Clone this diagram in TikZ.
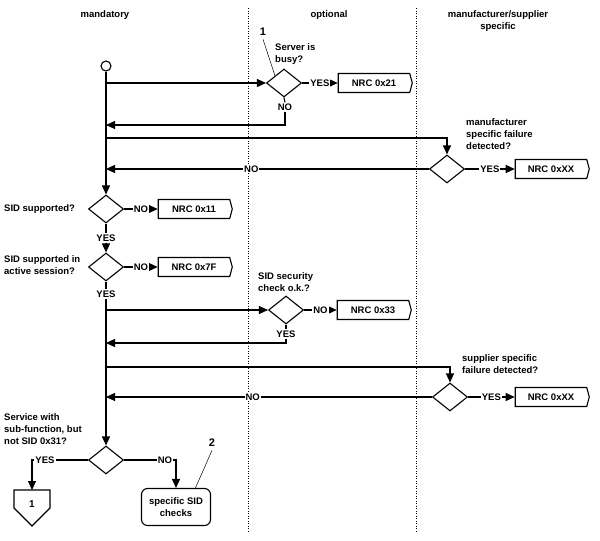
\documentclass[tikz,border=0pt]{standalone}
\usepackage{fontspec}
\setmainfont{Liberation Sans}
\usetikzlibrary{arrows.meta,shapes.geometric,shapes.symbols}
\begin{document}
\begin{tikzpicture}[x=1pt,y=-1pt,
  every node/.style={font=\bfseries\fontsize{9.5}{12}\selectfont},
  line/.style={line width=1.1pt},
  arr/.style={line, -{Triangle[length=9pt,width=8pt]}},
  dec/.style={draw,line width=1.1pt,diamond,minimum width=35pt,minimum height=28pt,inner sep=0pt},
  nrc/.style={draw,line width=1.1pt,signal,signal to=east,signal pointer angle=150,minimum height=19pt,minimum width=74pt,inner sep=2pt},
  lbl/.style={align=left,anchor=west,inner sep=0pt},
  yn/.style={fill=white,inner sep=1pt}]
\useasboundingbox (0,0) rectangle (600,541);
\draw[line width=1pt,dash pattern=on 1pt off 1.5pt] (248,8) -- (248,532) (416,8) -- (416,532);
\node (h1) at (105,15) {mandatory};
\node (h2) at (329,15) {optional};
\node[align=center] (h3) at (498,21) {manufacturer/supplier\\specific};
% start
\node[draw,line width=1.1pt,circle,minimum size=10pt,inner sep=0pt] (st) at (106,66) {};
\coordinate (m1) at (106,83);
\coordinate (m2) at (106,125);
\coordinate (m3) at (106,138);
\coordinate (m4) at (106,169);
\coordinate (m5) at (106,310);
\coordinate (m6) at (106,343);
\coordinate (m7) at (106,367);
\coordinate (m8) at (106,397);
% server busy
\node[dec] (d1) at (284,83) {};
\node (n1) at (263,32) {\fontsize{11}{12}\selectfont 1};
\draw[line width=0.5pt] (n1.south) -- (d1.north west);
\node[lbl] (t1) at (275,54) {Server is\\busy?};
\node[nrc] (r1) at (374,83) {NRC 0x21};
\draw[arr] (d1.east) -- node[yn]{YES} (r1.west);
\node[yn] (no1) at (285,107) {NO};
\draw[line] (d1.south) -- (no1.north);
\draw[arr] (no1.south) |- (m2);
\draw[arr] (m1) -- (d1.west);
% manufacturer
\node[dec] (d2) at (447,169) {};
\node[lbl] (t2) at (466,134) {manufacturer\\specific failure\\detected?};
\draw[arr] (m3) -| (d2.north);
\node[nrc] (r2) at (551,169) {NRC 0xXX};
\draw[arr] (d2.east) -- node[yn]{YES} (r2.west);
\draw[arr] (d2.west) -- node[yn,pos=0.55]{NO} (m4);
% SID supported
\node[dec] (d3) at (106,209) {};
\node[lbl] (t3) at (4,209) {SID supported?};
\node[nrc] (r3) at (194,209) {NRC 0x11};
\draw[arr] (d3.east) -- node[yn]{NO} (r3.west);
\node[yn] (y3) at (106,238) {YES};
\node[dec] (d4) at (106,267) {};
\node[lbl] (t4) at (4,265) {SID supported in\\active session?};
\node[nrc] (r4) at (194,267) {NRC 0x7F};
\draw[arr] (d4.east) -- node[yn]{NO} (r4.west);
\node[yn] (y4) at (106,294) {YES};
\draw[arr] (st.south) -- (d3.north);
\draw[line] (d3.south) -- (y3.north);
\draw[arr] (y3.south) -- (d4.north);
\draw[line] (d4.south) -- (y4.north);
% security
\node[dec] (d5) at (286,310) {};
\node[lbl] (t5) at (258,282) {SID security\\check o.k.?};
\node[nrc] (r5) at (373,310) {NRC 0x33};
\draw[arr] (d5.east) -- node[yn]{NO} (r5.west);
\node[yn] (y5) at (286,334) {YES};
\draw[line] (d5.south) -- (y5.north);
\draw[arr] (y5.south) |- (m6);
\draw[arr] (m5) -- (d5.west);
% supplier
\node[dec] (d6) at (450,397) {};
\node[lbl] (t6) at (462,364) {supplier specific\\failure detected?};
\draw[arr] (m7) -| (d6.north);
\node[nrc] (r6) at (551,397) {NRC 0xXX};
\draw[arr] (d6.east) -- node[yn]{YES} (r6.west);
\draw[arr] (d6.west) -- node[yn,pos=0.55]{NO} (m8);
% final
\node[dec] (d7) at (106,460) {};
\node[lbl] (t7) at (4,429) {Service with\\sub-function, but\\not SID 0x31?};
\draw[arr] (y4.south) -- (d7.north);
\coordinate (p1) at (32,490);
\draw[line] (14,490) -- (50,490) -- (50,508) -- (32,526) -- (14,508) -- cycle;
\node (p1t) at (32,504) {\fontsize{10}{11}\selectfont 1};
\node[draw,line width=1.1pt,rounded corners=6pt,align=center,minimum width=69pt,minimum height=37pt,inner sep=1pt] (sc) at (176,507) {specific SID\\checks};
\node[yn] (yy) at (45,460) {YES};
\node[yn] (nn) at (165,460) {NO};
\draw[line] (d7.west) -- (yy.east);
\draw[arr] (yy.west) -| (p1);
\draw[line] (d7.east) -- (nn.west);
\draw[arr] (nn.east) -| (sc.north);
\node (n2) at (212,443) {\fontsize{11}{12}\selectfont 2};
\draw[line width=0.5pt] (n2.south) -- (195,489);
\end{tikzpicture}
\end{document}
